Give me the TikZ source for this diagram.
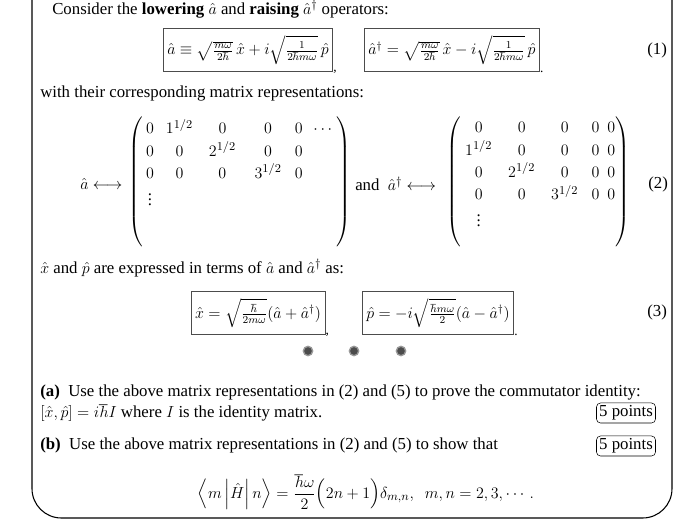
\documentclass[tikz,border=0pt]{standalone}
\usepackage{amsmath,amssymb}
\usepackage{fontspec}
\setmainfont{Liberation Serif}
\begin{document}
\begin{tikzpicture}[x=0.75pt,y=-0.75pt,
  txt/.style={anchor=west,inner sep=0pt,font=\fontsize{12.6}{14}\selectfont},
  eqbox/.style={draw=black!70,inner xsep=3pt,inner ysep=5pt,font=\fontsize{12}{14}\selectfont},
  pts/.style={draw,rounded corners=3pt,inner sep=2pt,font=\fontsize{12.6}{14}\selectfont},
  dot/.style={circle,fill=black!70,draw=black!40,line width=1pt,inner sep=0pt,minimum size=7pt}]
\useasboundingbox (0,0) rectangle (700,523);
\draw[line width=0.8pt,rounded corners=22pt] (32,-30) rectangle (672,518);
\node[txt] (t1) at (52,9) {Consider the \textbf{lowering} $\hat a$ and \textbf{raising} $\hat a^\dagger$ operators:};
\node[eqbox] (b1) at (248,50) {$\hat a \equiv \sqrt{\tfrac{m\omega}{2\hbar}}\,\hat x + i\sqrt{\tfrac{1}{2\hbar m\omega}}\,\hat p$};
\node[anchor=west,inner sep=0pt] (c1) at (b1.south east) {,};
\node[eqbox] (b2) at (452,50) {$\hat a^\dagger = \sqrt{\tfrac{m\omega}{2\hbar}}\,\hat x - i\sqrt{\tfrac{1}{2\hbar m\omega}}\,\hat p$};
\node[anchor=west,inner sep=0pt] (c2) at (b2.south east) {.};
\node[txt] (e1) at (647,50) {(1)};
\node[txt] (t2) at (40,93) {with their corresponding matrix representations:};
\node[txt] (l1) at (80,184) {$\hat a\longleftrightarrow$};
\node[inner sep=0pt,font=\fontsize{12.5}{14}\selectfont] (m1) at (240,182) {\renewcommand{\arraystretch}{1.2}$\left(\begin{array}{@{\,}c@{\hspace{9pt}}c@{\hspace{12pt}}c@{\hspace{14pt}}c@{\hspace{10pt}}c@{\hspace{8pt}}l@{}}
0 & 1^{1/2} & 0 & 0 & 0 & \cdots\\
0 & 0 & 2^{1/2} & 0 & 0 & \\
0 & 0 & 0 & 3^{1/2} & 0 & \\
\vdots &&&&&\\[8pt]
\phantom{0}&&&&&\\
\end{array}\;\right)$};
\node[txt] (l2) at (355,184) {and\ \ $\hat a^\dagger\longleftrightarrow$};
\node[inner sep=0pt,font=\fontsize{12.5}{14}\selectfont] (m2) at (538,182) {\renewcommand{\arraystretch}{1.2}$\left(\begin{array}{@{\;}c@{\hspace{12pt}}c@{\hspace{12pt}}c@{\hspace{10pt}}c@{\hspace{6pt}}c@{}}
0 & 0 & 0 & 0 & 0\\
1^{1/2} & 0 & 0 & 0 & 0\\
0 & 2^{1/2} & 0 & 0 & 0\\
0 & 0 & 3^{1/2} & 0 & 0\\
\vdots &&&&\\[10pt]
\end{array}\right)$};
\node[txt] (e2) at (648,184) {(2)};
\node[txt] (t3) at (40,268) {$\hat x$ and $\hat p$ are expressed in terms of $\hat a$ and $\hat a^\dagger$ as:};
\node[eqbox] (b3) at (258,313) {$\hat x = \sqrt{\tfrac{\hbar}{2m\omega}}(\hat a+\hat a^\dagger)$};
\node[anchor=west,inner sep=0pt] (c3) at (b3.south east) {,};
\node[eqbox] (b4) at (438,313) {$\hat p = -i\sqrt{\tfrac{\hbar m\omega}{2}}(\hat a-\hat a^\dagger)$};
\node[anchor=west,inner sep=0pt] (c4) at (b4.south east) {.};
\node[txt] (e3) at (647,312) {(3)};
\node[dot] (d1) at (308,351) {};
\node[dot] (d2) at (354,351) {};
\node[dot] (d3) at (401,351) {};
\node[txt] (a1) at (40,392) {\textbf{(a)}\ \ Use the above matrix representations in (2) and (5) to prove the commutator identity:};
\node[txt] (a2) at (40,413) {$[\hat x,\hat p]=i\hbar I$ where $I$ is the identity matrix.};
\node[pts] (p1) at (626,413) {5 points};
\node[txt] (bb) at (40,445) {\textbf{(b)}\ \ Use the above matrix representations in (2) and (5) to show that};
\node[pts] (p2) at (626,446) {5 points};
\node[inner sep=0pt,font=\fontsize{12.5}{14}\selectfont] (f) at (366,492) {$\Bigl\langle m\,\Bigl|\hat H\Bigr|\,n\Bigr\rangle=\dfrac{\hbar\omega}{2}\Bigl(2n+1\Bigr)\delta_{m,n},\ \ m,n=2,3,\cdots.$};
\end{tikzpicture}
\end{document}
